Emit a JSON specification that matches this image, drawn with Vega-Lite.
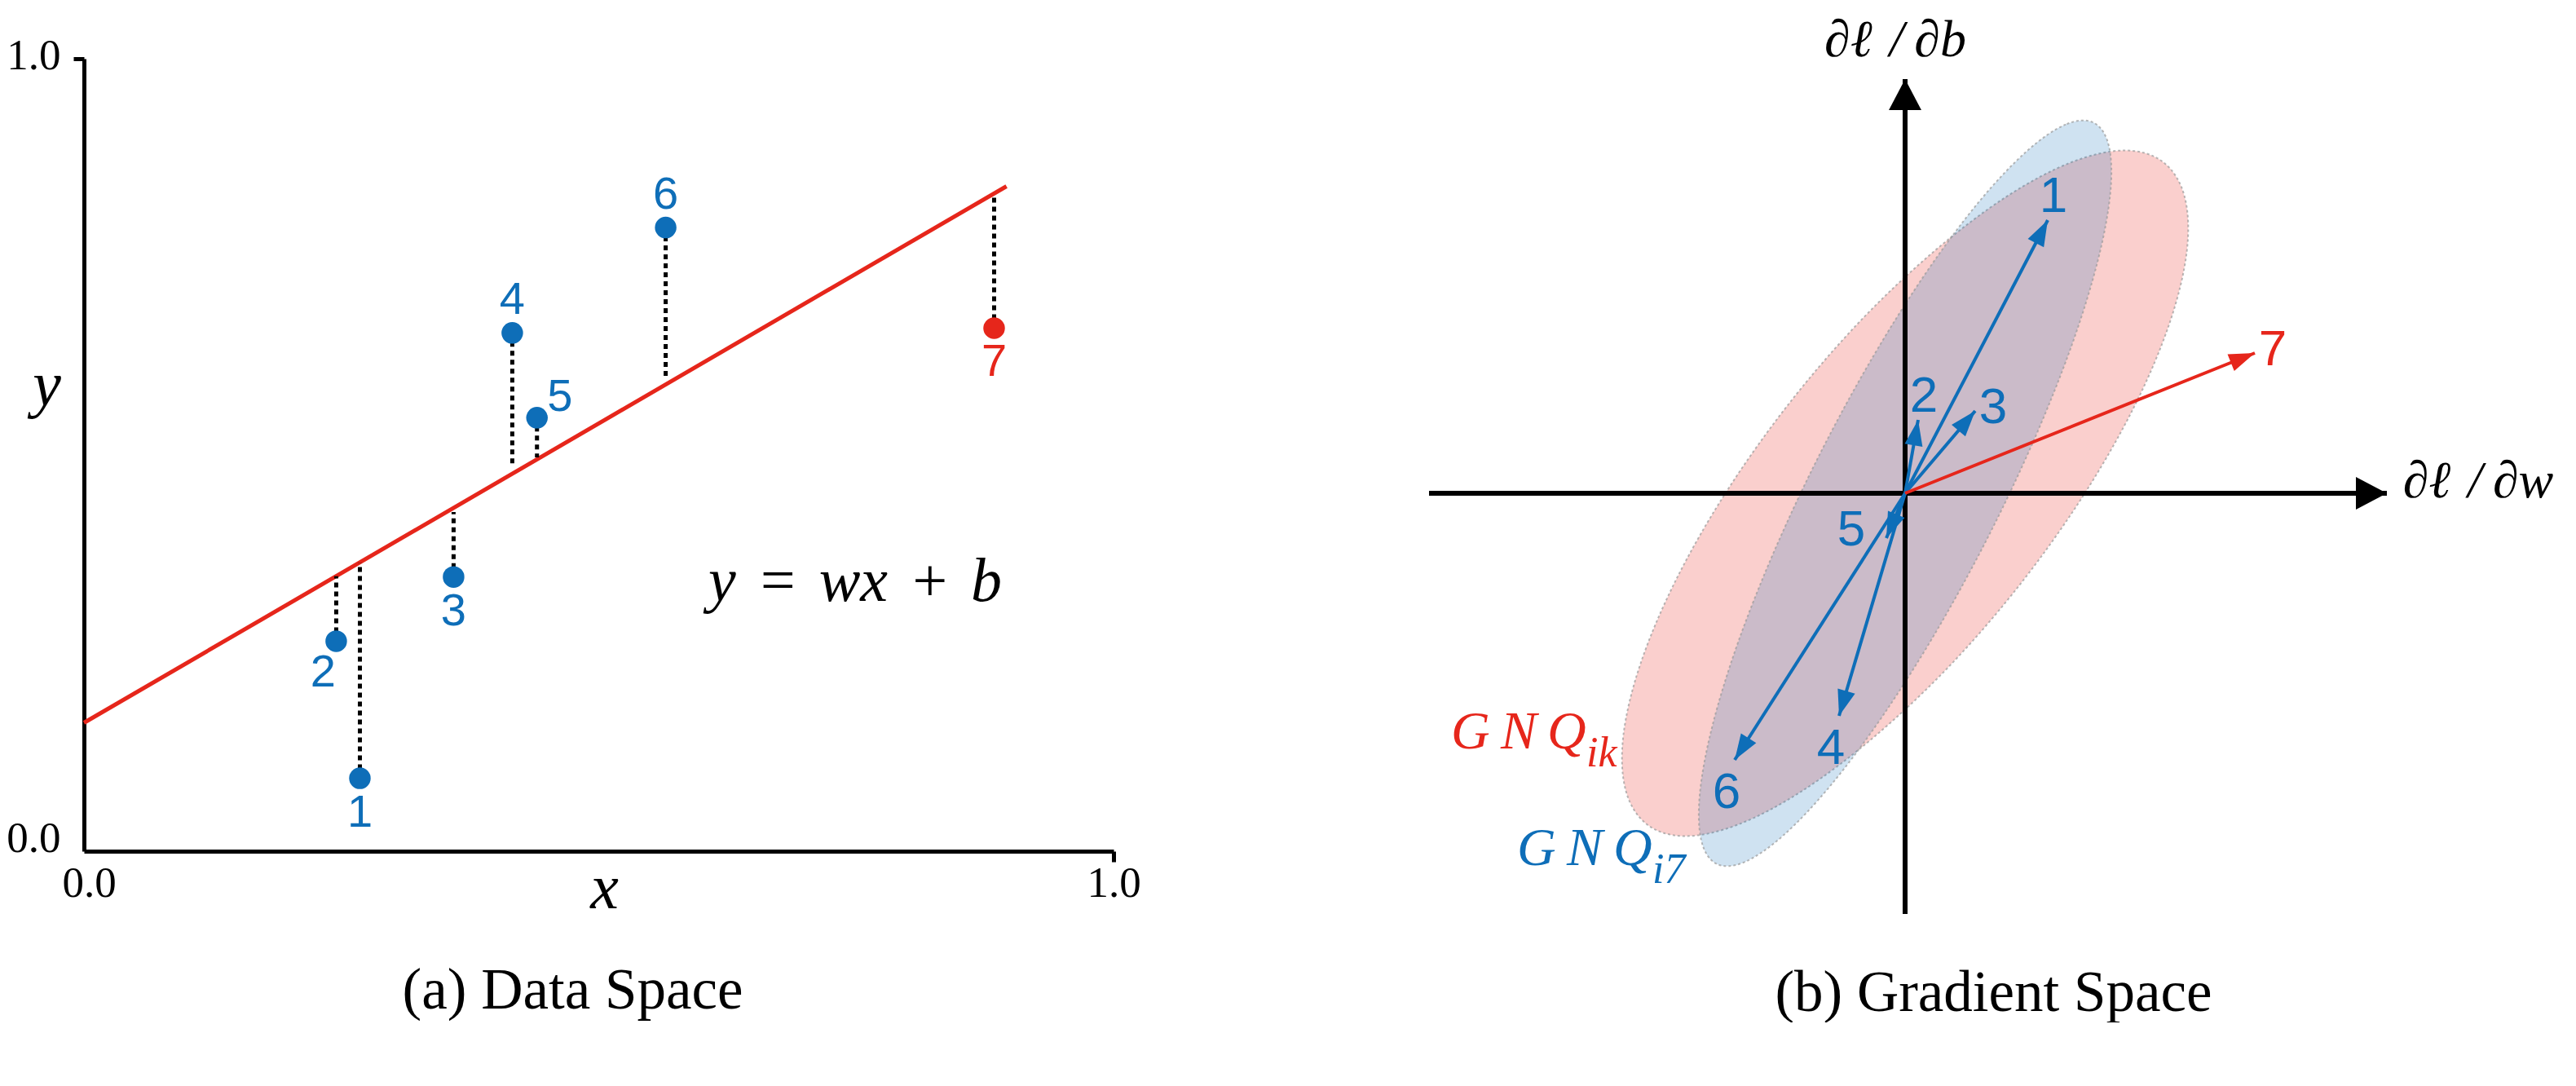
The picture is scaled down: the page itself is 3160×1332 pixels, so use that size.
{
  "$schema": "https://vega.github.io/schema/vega-lite/v6.json",
  "background": "white",
  "padding": {"left": 7, "top": 17, "right": 0, "bottom": 0},
  "autosize": {"type": "pad"},
  "config": {"view": {"stroke": null}},
  "bounds": "flush",
  "spacing": 387,
  "datasets": {
    "pts": [
      {"id": "1", "x": 0.268, "y": 0.092, "yhat": 0.364, "grp": "in", "pos": "below"},
      {"id": "2", "x": 0.245, "y": 0.265, "yhat": 0.347, "grp": "in", "pos": "belowleft"},
      {"id": "3", "x": 0.359, "y": 0.346, "yhat": 0.428, "grp": "in", "pos": "below"},
      {"id": "4", "x": 0.416, "y": 0.654, "yhat": 0.488, "grp": "in", "pos": "above"},
      {"id": "5", "x": 0.440, "y": 0.547, "yhat": 0.497, "grp": "in", "pos": "upright"},
      {"id": "6", "x": 0.565, "y": 0.787, "yhat": 0.597, "grp": "in", "pos": "above"},
      {"id": "7", "x": 0.884, "y": 0.660, "yhat": 0.828, "grp": "out", "pos": "below"}
    ],
    "fit": [
      {"x": 0.0, "y": 0.162},
      {"x": 0.896, "y": 0.839}
    ],
    "eq": [
      {"x": 0.749, "y": 0.316, "label": "y\u2004=\u2004wx\u2004+\u2004b"}
    ],
    "ell": [
      {"g": "ik", "i": 0, "w": 3.171, "b": 4.058},
      {"g": "ik", "i": 1, "w": 2.700, "b": 4.205},
      {"g": "ik", "i": 2, "w": 2.045, "b": 4.062},
      {"g": "ik", "i": 3, "w": 1.252, "b": 3.644},
      {"g": "ik", "i": 4, "w": 0.370, "b": 2.980},
      {"g": "ik", "i": 5, "w": -0.545, "b": 2.118},
      {"g": "ik", "i": 6, "w": -1.418, "b": 1.108},
      {"g": "ik", "i": 7, "w": -2.191, "b": 0.021},
      {"g": "ik", "i": 8, "w": -2.814, "b": -1.069},
      {"g": "ik", "i": 9, "w": -3.244, "b": -2.085},
      {"g": "ik", "i": 10, "w": -3.455, "b": -2.960},
      {"g": "ik", "i": 11, "w": -3.430, "b": -3.633},
      {"g": "ik", "i": 12, "w": -3.171, "b": -4.058},
      {"g": "ik", "i": 13, "w": -2.700, "b": -4.205},
      {"g": "ik", "i": 14, "w": -2.045, "b": -4.062},
      {"g": "ik", "i": 15, "w": -1.252, "b": -3.644},
      {"g": "ik", "i": 16, "w": -0.370, "b": -2.980},
      {"g": "ik", "i": 17, "w": 0.545, "b": -2.118},
      {"g": "ik", "i": 18, "w": 1.418, "b": -1.108},
      {"g": "ik", "i": 19, "w": 2.191, "b": -0.021},
      {"g": "ik", "i": 20, "w": 2.814, "b": 1.069},
      {"g": "ik", "i": 21, "w": 3.244, "b": 2.085},
      {"g": "ik", "i": 22, "w": 3.455, "b": 2.960},
      {"g": "ik", "i": 23, "w": 3.430, "b": 3.633},
      {"g": "i7", "i": 0, "w": 2.315, "b": 4.544},
      {"g": "i7", "i": 1, "w": 1.971, "b": 4.524},
      {"g": "i7", "i": 2, "w": 1.493, "b": 4.196},
      {"g": "i7", "i": 3, "w": 0.912, "b": 3.582},
      {"g": "i7", "i": 4, "w": 0.270, "b": 2.724},
      {"g": "i7", "i": 5, "w": -0.391, "b": 1.680},
      {"g": "i7", "i": 6, "w": -1.025, "b": 0.522},
      {"g": "i7", "i": 7, "w": -1.589, "b": -0.672},
      {"g": "i7", "i": 8, "w": -2.046, "b": -1.820},
      {"g": "i7", "i": 9, "w": -2.362, "b": -2.844},
      {"g": "i7", "i": 10, "w": -2.517, "b": -3.674},
      {"g": "i7", "i": 11, "w": -2.501, "b": -4.254},
      {"g": "i7", "i": 12, "w": -2.315, "b": -4.544},
      {"g": "i7", "i": 13, "w": -1.971, "b": -4.524},
      {"g": "i7", "i": 14, "w": -1.493, "b": -4.196},
      {"g": "i7", "i": 15, "w": -0.912, "b": -3.582},
      {"g": "i7", "i": 16, "w": -0.270, "b": -2.724},
      {"g": "i7", "i": 17, "w": 0.391, "b": -1.680},
      {"g": "i7", "i": 18, "w": 1.025, "b": -0.522},
      {"g": "i7", "i": 19, "w": 1.589, "b": 0.672},
      {"g": "i7", "i": 20, "w": 2.046, "b": 1.820},
      {"g": "i7", "i": 21, "w": 2.362, "b": 2.844},
      {"g": "i7", "i": 22, "w": 2.517, "b": 3.674},
      {"g": "i7", "i": 23, "w": 2.501, "b": 4.254}
    ],
    "arrows": [
      {"id": "w", "kind": "axis", "w0": -5.84, "b0": 0, "w": 5.91, "b": 0, "pos": "none"},
      {"id": "b", "kind": "axis", "w0": 0, "b0": -5.16, "w": 0, "b": 5.08, "pos": "none"},
      {"id": "1", "kind": "in", "w0": 0, "b0": 0, "w": 1.75, "b": 3.35, "pos": "above"},
      {"id": "2", "kind": "in", "w0": 0, "b0": 0, "w": 0.16, "b": 0.90, "pos": "above"},
      {"id": "3", "kind": "in", "w0": 0, "b0": 0, "w": 0.86, "b": 1.01, "pos": "right"},
      {"id": "4", "kind": "in", "w0": 0, "b0": 0, "w": -0.81, "b": -2.73, "pos": "below"},
      {"id": "5", "kind": "in", "w0": 0, "b0": 0, "w": -0.23, "b": -0.55, "pos": "left"},
      {"id": "6", "kind": "in", "w0": 0, "b0": 0, "w": -2.09, "b": -3.27, "pos": "below"},
      {"id": "7", "kind": "out", "w0": 0, "b0": 0, "w": 4.29, "b": 1.72, "pos": "right"}
    ],
    "axlab": [
      {"label": "∂ℓ\u2004/\u2009∂w", "w": 7.03, "b": -0.05},
      {"label": "∂ℓ\u2004/\u2009∂b", "w": -0.12, "b": 5.36}
    ],
    "gnq": [
      {"kind": "out", "sub": "ik", "w": -5.57, "b": -3.13},
      {"kind": "in", "sub": "i7", "w": -4.76, "b": -4.56}
    ]
  },
  "hconcat": [
    {
      "width": 1263,
      "height": 972,
      "title": {"text": "(a) Data Space", "orient": "bottom", "anchor": "middle", "frame": "group", "font": "Liberation Serif", "fontSize": 71, "fontWeight": "normal", "color": "black", "offset": 52, "dx": -32},
      "encoding": {
        "x": {
          "field": "x", "type": "quantitative",
          "scale": {"domain": [0, 1], "nice": false, "zero": false},
          "axis": {
            "values": [0, 1], "format": ".1f", "title": "x", "grid": false,
            "domainColor": "black", "domainWidth": 5,
            "tickColor": "black", "tickWidth": 5, "tickSize": 13,
            "tickOpacity": {"condition": {"test": "datum.value == 1", "value": 1}, "value": 0},
            "labelFont": "Liberation Serif", "labelFontSize": 53, "labelColor": "black",
            "labelPadding": 0, "labelBaseline": "top", "labelFlush": false, "labelOverlap": false,
            "labelOffset": {"condition": {"test": "datum.value == 0", "value": 6}, "value": 0},
            "titleFont": "Liberation Serif", "titleFontStyle": "italic", "titleFontWeight": "normal",
            "titleFontSize": 78, "titleColor": "black",
            "titleX": 638, "titleY": 69, "titleBaseline": "alphabetic", "titleAlign": "center"
          }
        },
        "y": {
          "field": "y", "type": "quantitative",
          "scale": {"domain": [0, 1], "nice": false, "zero": false},
          "axis": {
            "values": [0, 1], "format": ".1f", "title": "y", "grid": false,
            "domainColor": "black", "domainWidth": 5,
            "tickColor": "black", "tickWidth": 5, "tickSize": 13,
            "tickOpacity": {"condition": {"test": "datum.value == 1", "value": 1}, "value": 0},
            "labelFont": "Liberation Serif", "labelFontSize": 53, "labelColor": "black",
            "labelPadding": 16, "labelBaseline": "alphabetic", "labelFlush": false, "labelOverlap": false,
            "labelOffset": {"condition": {"test": "datum.value == 1", "value": 12}, "value": 0},
            "titleFont": "Liberation Serif", "titleFontStyle": "italic", "titleFontWeight": "normal",
            "titleFontSize": 78, "titleColor": "black", "titleAngle": 0,
            "titleX": -46, "titleY": 424, "titleBaseline": "alphabetic", "titleAlign": "center"
          }
        }
      },
      "layer": [
        {
          "data": {"name": "fit"},
          "mark": {"type": "line", "color": "#e6261b", "strokeWidth": 5},
          "encoding": {"order": {"field": "x", "type": "quantitative"}}
        },
        {
          "data": {"name": "pts"},
          "mark": {"type": "rule", "color": "black", "strokeWidth": 5, "strokeDash": [6, 5]},
          "encoding": {"y2": {"field": "yhat"}}
        },
        {
          "data": {"name": "pts"},
          "mark": {"type": "circle", "size": 700, "opacity": 1},
          "encoding": {"color": {"field": "grp", "type": "nominal", "scale": {"domain": ["in", "out"], "range": ["#0e6eb8", "#e6261b"]}, "legend": null}}
        },
        {
          "data": {"name": "pts"},
          "transform": [{"filter": "datum.pos == 'below'"}],
          "mark": {"type": "text", "font": "Liberation Sans", "fontSize": 56, "align": "center", "baseline": "middle", "dy": 42},
          "encoding": {"text": {"field": "id"}, "color": {"field": "grp", "type": "nominal", "scale": {"domain": ["in", "out"], "range": ["#0e6eb8", "#e6261b"]}, "legend": null}}
        },
        {
          "data": {"name": "pts"},
          "transform": [{"filter": "datum.pos == 'belowleft'"}],
          "mark": {"type": "text", "font": "Liberation Sans", "fontSize": 56, "align": "center", "baseline": "middle", "dx": -16, "dy": 39},
          "encoding": {"text": {"field": "id"}, "color": {"field": "grp", "type": "nominal", "scale": {"domain": ["in", "out"], "range": ["#0e6eb8", "#e6261b"]}, "legend": null}}
        },
        {
          "data": {"name": "pts"},
          "transform": [{"filter": "datum.pos == 'above'"}],
          "mark": {"type": "text", "font": "Liberation Sans", "fontSize": 56, "align": "center", "baseline": "middle", "dy": -40},
          "encoding": {"text": {"field": "id"}, "color": {"field": "grp", "type": "nominal", "scale": {"domain": ["in", "out"], "range": ["#0e6eb8", "#e6261b"]}, "legend": null}}
        },
        {
          "data": {"name": "pts"},
          "transform": [{"filter": "datum.pos == 'upright'"}],
          "mark": {"type": "text", "font": "Liberation Sans", "fontSize": 56, "align": "center", "baseline": "middle", "dx": 28, "dy": -25},
          "encoding": {"text": {"field": "id"}, "color": {"field": "grp", "type": "nominal", "scale": {"domain": ["in", "out"], "range": ["#0e6eb8", "#e6261b"]}, "legend": null}}
        },
        {
          "data": {"name": "eq"},
          "mark": {"type": "text", "font": "Liberation Serif", "fontStyle": "italic", "fontSize": 76, "align": "center", "baseline": "alphabetic", "color": "black"},
          "encoding": {"text": {"field": "label"}}
        }
      ]
    },
    {
      "width": 1175,
      "height": 972,
      "title": {"text": "(b) Gradient Space", "orient": "bottom", "anchor": "middle", "frame": "group", "font": "Liberation Serif", "fontSize": 71, "fontWeight": "normal", "color": "black", "offset": 60, "dx": 105},
      "encoding": {
        "x": {"field": "w", "type": "quantitative", "scale": {"domain": [-5.84, 5.91], "nice": false, "zero": false}, "axis": null},
        "y": {"field": "b", "type": "quantitative", "scale": {"domain": [-4.39, 5.33], "nice": false, "zero": false}, "axis": null}
      },
      "layer": [
        {
          "data": {"name": "ell"},
          "transform": [{"filter": "datum.g == 'ik'"}],
          "mark": {"type": "line", "interpolate": "cardinal-closed", "fill": "#e6261b", "fillOpacity": 0.22, "stroke": "#9a9a9a", "strokeWidth": 2, "strokeDash": [3, 3], "strokeOpacity": 0.7},
          "encoding": {"order": {"field": "i", "type": "quantitative"}}
        },
        {
          "data": {"name": "ell"},
          "transform": [{"filter": "datum.g == 'i7'"}],
          "mark": {"type": "line", "interpolate": "cardinal-closed", "fill": "#0e6eb8", "fillOpacity": 0.2, "stroke": "#9a9a9a", "strokeWidth": 2, "strokeDash": [3, 3], "strokeOpacity": 0.7},
          "encoding": {"order": {"field": "i", "type": "quantitative"}}
        },
        {
          "data": {"name": "arrows"},
          "transform": [{"filter": "datum.kind == 'axis'"}],
          "mark": {"type": "rule", "color": "black", "strokeWidth": 6},
          "encoding": {"x2": {"field": "w0"}, "y2": {"field": "b0"}}
        },
        {
          "data": {"name": "arrows"},
          "transform": [{"filter": "datum.kind != 'axis'"}],
          "mark": {"type": "rule", "strokeWidth": 4},
          "encoding": {"x2": {"field": "w0"}, "y2": {"field": "b0"}, "color": {"field": "kind", "type": "nominal", "scale": {"domain": ["in", "out"], "range": ["#0e6eb8", "#e6261b"]}, "legend": null}}
        },
        {
          "data": {"name": "arrows"},
          "transform": [{"filter": "datum.kind == 'axis'"}, {"calculate": "atan2(datum.w - datum.w0, datum.b - datum.b0) * 180 / PI", "as": "ang"}],
          "mark": {"type": "point", "shape": "M0,0L-1.05,2L1.05,2Z", "size": 1444, "filled": true, "color": "black", "opacity": 1, "strokeWidth": 0},
          "encoding": {"angle": {"field": "ang", "type": "quantitative", "scale": null}}
        },
        {
          "data": {"name": "arrows"},
          "transform": [{"filter": "datum.kind != 'axis'"}, {"calculate": "atan2(datum.w - datum.w0, datum.b - datum.b0) * 180 / PI", "as": "ang"}],
          "mark": {"type": "point", "shape": "M0,0L-0.7,2L0.7,2Z", "size": 1000, "filled": true, "opacity": 1, "strokeWidth": 0},
          "encoding": {"angle": {"field": "ang", "type": "quantitative", "scale": null}, "color": {"field": "kind", "type": "nominal", "scale": {"domain": ["in", "out"], "range": ["#0e6eb8", "#e6261b"]}, "legend": null}}
        },
        {
          "data": {"name": "arrows"},
          "transform": [{"filter": "datum.pos == 'above'"}],
          "mark": {"type": "text", "font": "Liberation Sans", "fontSize": 62, "align": "center", "baseline": "middle", "dx": 7, "dy": -29},
          "encoding": {"text": {"field": "id"}, "color": {"field": "kind", "type": "nominal", "scale": {"domain": ["in", "out"], "range": ["#0e6eb8", "#e6261b"]}, "legend": null}}
        },
        {
          "data": {"name": "arrows"},
          "transform": [{"filter": "datum.pos == 'right'"}],
          "mark": {"type": "text", "font": "Liberation Sans", "fontSize": 62, "align": "center", "baseline": "middle", "dx": 22, "dy": -4},
          "encoding": {"text": {"field": "id"}, "color": {"field": "kind", "type": "nominal", "scale": {"domain": ["in", "out"], "range": ["#0e6eb8", "#e6261b"]}, "legend": null}}
        },
        {
          "data": {"name": "arrows"},
          "transform": [{"filter": "datum.pos == 'left'"}],
          "mark": {"type": "text", "font": "Liberation Sans", "fontSize": 62, "align": "center", "baseline": "middle", "dx": -43, "dy": -10},
          "encoding": {"text": {"field": "id"}, "color": {"field": "kind", "type": "nominal", "scale": {"domain": ["in", "out"], "range": ["#0e6eb8", "#e6261b"]}, "legend": null}}
        },
        {
          "data": {"name": "arrows"},
          "transform": [{"filter": "datum.pos == 'below'"}],
          "mark": {"type": "text", "font": "Liberation Sans", "fontSize": 62, "align": "center", "baseline": "middle", "dx": -10, "dy": 40},
          "encoding": {"text": {"field": "id"}, "color": {"field": "kind", "type": "nominal", "scale": {"domain": ["in", "out"], "range": ["#0e6eb8", "#e6261b"]}, "legend": null}}
        },
        {
          "data": {"name": "axlab"},
          "mark": {"type": "text", "font": "Liberation Serif", "fontStyle": "italic", "fontSize": 64, "align": "center", "baseline": "alphabetic", "color": "black"},
          "encoding": {"text": {"field": "label"}}
        },
        {
          "data": {"name": "gnq"},
          "mark": {"type": "text", "font": "Liberation Serif", "fontStyle": "italic", "fontSize": 66, "align": "left", "baseline": "alphabetic"},
          "encoding": {"text": {"value": "G\u2009N\u2009Q"}, "color": {"field": "kind", "type": "nominal", "scale": {"domain": ["in", "out"], "range": ["#0e6eb8", "#e6261b"]}, "legend": null}}
        },
        {
          "data": {"name": "gnq"},
          "mark": {"type": "text", "font": "Liberation Serif", "fontStyle": "italic", "fontSize": 52, "align": "left", "baseline": "alphabetic", "dx": 166, "dy": 22},
          "encoding": {"text": {"field": "sub"}, "color": {"field": "kind", "type": "nominal", "scale": {"domain": ["in", "out"], "range": ["#0e6eb8", "#e6261b"]}, "legend": null}}
        }
      ]
    }
  ]
}
